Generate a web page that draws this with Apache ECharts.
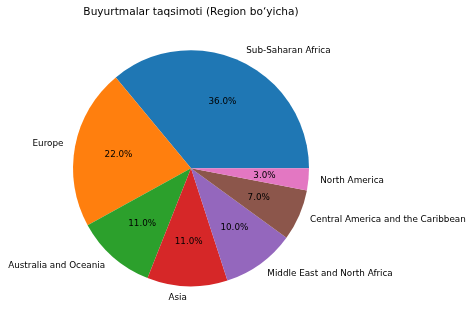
<!DOCTYPE html>
<html>
<head>
<meta charset="utf-8">
<script src="https://cdn.jsdelivr.net/npm/echarts@6/dist/echarts.min.js"></script>
<style>html,body{margin:0;padding:0;background:#fff}#c{width:474px;height:322px}</style>
</head>
<body>
<div id="c"></div>
<script>
const categories = ['Sub-Saharan Africa', 'Europe', 'Australia and Oceania', 'Asia', 'Middle East and North Africa', 'Central America and the Caribbean', 'North America'];
const shares = [36, 22, 11, 11, 10, 7, 3];
const colors = ['#1f77b4', '#ff7f0e', '#2ca02c', '#d62728', '#9467bd', '#8c564b', '#e377c2'];
const titleText = 'Buyurtmalar taqsimoti (Region bo‘yicha)';

const CX = 191, CY = 168.3, R = 118;
const font = 'DejaVu Sans';
const data = categories.map((n, i) => ({ name: n, value: shares[i], itemStyle: { color: colors[i] } }));

const chart = echarts.init(document.getElementById('c'), null, { renderer: 'canvas' });
chart.setOption({
  animation: false,
  title: {
    text: titleText, left: CX, top: 7, textAlign: 'center', padding: 0,
    textStyle: { fontFamily: font, fontSize: 10.6, fontWeight: 'normal', color: '#000' }
  },
  series: [
    {
      type: 'pie', center: [CX, CY], radius: [0, R],
      startAngle: 0, clockwise: false, avoidLabelOverlap: false,
      itemStyle: { borderWidth: 0 },
      label: {
        show: true, position: 'outside', fontFamily: font, fontSize: 8.8, color: '#000',
        distanceToLabelLine: 0, formatter: '{b}', width: 300, overflow: 'none'
      },
      labelLine: { show: false, length: R * 0.1, length2: 0 },
      emphasis: { disabled: true },
      data: data
    },
    {
      type: 'pie', center: [CX, CY], radius: [R * 0.2, R],
      startAngle: 0, clockwise: false, avoidLabelOverlap: false, silent: true,
      itemStyle: { color: 'rgba(0,0,0,0)', borderWidth: 0 },
      label: {
        show: true, position: 'inside', fontFamily: font, fontSize: 8.8, color: '#000',
        formatter: p => p.value.toFixed(1) + '%'
      },
      labelLine: { show: false },
      emphasis: { disabled: true },
      data: categories.map((n, i) => ({ name: n, value: shares[i] }))
    }
  ]
});
</script>
</body>
</html>
